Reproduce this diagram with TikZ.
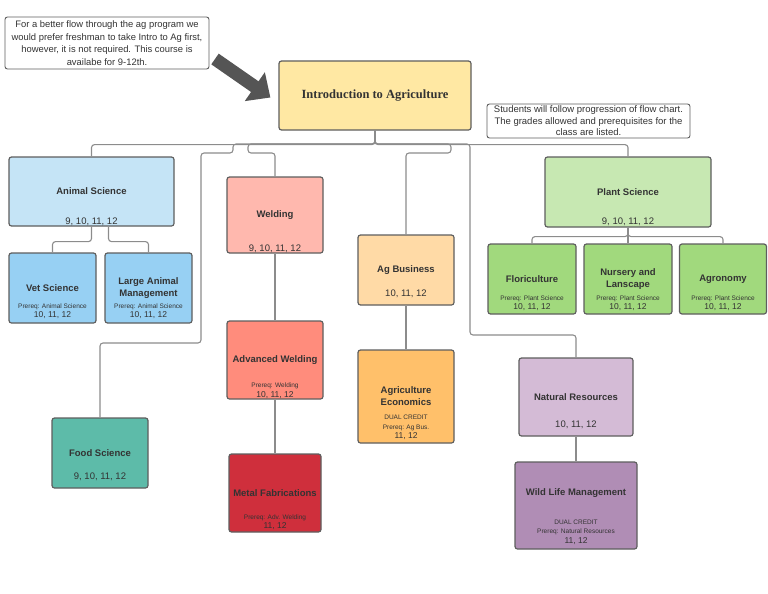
\documentclass[tikz,border=0pt]{standalone}
\usepackage{fontspec}
\setmainfont{Liberation Sans}
\newfontfamily\serifbold{Liberation Serif}
\usetikzlibrary{arrows.meta}
\definecolor{boxline}{HTML}{5E5E5E}
\definecolor{linkgray}{HTML}{8C8C8C}
\definecolor{ink}{HTML}{333333}
\definecolor{introyellow}{HTML}{FFE8A3}
\definecolor{animalblue}{HTML}{C5E4F6}
\definecolor{vetblue}{HTML}{97D0F3}
\definecolor{weldpink}{HTML}{FFB8AE}
\definecolor{advsalmon}{HTML}{FF8C7C}
\definecolor{metalred}{HTML}{CF2F3C}
\definecolor{foodteal}{HTML}{5DBBA9}
\definecolor{busorange}{HTML}{FFDAA6}
\definecolor{econorange}{HTML}{FFC06A}
\definecolor{natlilac}{HTML}{D4BBD6}
\definecolor{wildpurple}{HTML}{B08DB5}
\definecolor{plantgreen}{HTML}{C7E8B2}
\definecolor{cropgreen}{HTML}{A1D97D}
\definecolor{arrowgray}{HTML}{555555}
\newcommand{\prereqfont}{\fontsize{6.5}{7}\selectfont}

\begin{document}
\begin{tikzpicture}[x=1pt, y=-1pt]
\tikzset{course/.style={draw=boxline, fill=#1, line width=1.2pt, rounded corners=2.5pt, inner sep=0pt, align=center, text=ink, font=\bfseries\fontsize{9.5}{12}\selectfont}}
\tikzset{info/.style={anchor=south, inner sep=0pt, align=center, text=ink, font=\fontsize{9.5}{9.5}\selectfont}}
\tikzset{small/.style={font=\fontsize{8.5}{9.5}\selectfont}}
\tikzset{note/.style={draw=boxline, line width=0.9pt, rounded corners=2.5pt, fill=white, inner sep=0pt, align=center, text=ink}}
\tikzset{link/.style={draw=linkgray, line width=1.1pt, rounded corners=3pt}}
\useasboundingbox (0,0) rectangle (768,594);

% notes
\node[note, minimum width=204pt, minimum height=52pt, font=\fontsize{9.4}{12.7}\selectfont] (freshnote) at (107,43)
  {For a better flow through the ag program we\\would prefer freshman to take Intro to Ag first,\\however, it is not required. This course is\\availabe for 9-12th.};
\node[note, minimum width=203pt, minimum height=34pt, font=\fontsize{9.5}{11.5}\selectfont] (flownote) at (588.5,121)
  {Students will follow progression of flow chart.\\The grades allowed and prerequisites for the\\class are listed.};

\node[course=introyellow, minimum width=192pt, minimum height=69pt, font=\serifbold\bfseries\fontsize{12.5}{14}\selectfont, text=ink] (intro) at (375,95.5) {Introduction to Agriculture};

% animal science
\node[course=animalblue, minimum width=165pt, minimum height=69pt,
  label={[info, yshift=1pt]south:{9, 10, 11, 12}}] (animal) at (91.5,191.5) {Animal Science};
\node[course=vetblue, minimum width=87pt, minimum height=70pt,
  label={[info, small, yshift=4.5pt]south:{{\prereqfont Prereq: Animal Science}\\10, 11, 12}}] (vet) at (52.5,288) {Vet Science};
\node[course=vetblue, minimum width=87pt, minimum height=70pt,
  label={[info, small, yshift=4.5pt]south:{{\prereqfont Prereq: Animal Science}\\10, 11, 12}}] (large) at (148.5,288) {Large Animal\\Management};
\node[course=foodteal, minimum width=96pt, minimum height=70pt,
  label={[info, yshift=8pt]south:{9, 10, 11, 12}}] (food) at (100,453) {Food Science};

% welding
\node[course=weldpink, minimum width=96pt, minimum height=76pt,
  label={[info, yshift=1pt]south:{9, 10, 11, 12}}] (welding) at (275,215) {Welding};
\node[course=advsalmon, minimum width=96pt, minimum height=78pt,
  label={[info, small, yshift=1pt]south:{{\prereqfont Prereq: Welding}\\10, 11, 12}}] (advweld) at (275,360) {Advanced Welding};
\node[course=metalred, minimum width=92pt, minimum height=78pt,
  label={[info, small, yshift=2.5pt]south:{{\prereqfont Prereq: Adv. Welding}\\11, 12}}] (metal) at (275,493) {Metal Fabrications};

% business
\node[course=busorange, minimum width=96pt, minimum height=70pt,
  label={[info, yshift=8pt]south:{10, 11, 12}}] (agbus) at (406,270) {Ag Business};
\node[course=econorange, minimum width=96pt, minimum height=93pt,
  label={[info, small, yshift=3.5pt]south:{{\prereqfont DUAL CREDIT}\\{\prereqfont Prereq: Ag Bus.}\\11, 12}}] (agecon) at (406,396.5) {Agriculture\\Economics};

% natural resources
\node[course=natlilac, minimum width=114pt, minimum height=78pt,
  label={[info, yshift=8pt]south:{10, 11, 12}}] (natres) at (576,397) {Natural Resources};
\node[course=wildpurple, minimum width=122pt, minimum height=87pt,
  label={[info, small, yshift=5pt]south:{{\prereqfont DUAL CREDIT}\\{\prereqfont Prereq: Natural Resources}\\11, 12}}] (wildlife) at (576,505.5) {\raisebox{10pt}[0pt][0pt]{Wild Life Management}};

% plant science
\node[course=plantgreen, minimum width=166pt, minimum height=70pt,
  label={[info, yshift=1.5pt]south:{9, 10, 11, 12}}] (plant) at (628,192) {Plant Science};
\node[course=cropgreen, minimum width=88pt, minimum height=70pt,
  label={[info, small, yshift=3.5pt]south:{{\prereqfont Prereq: Plant Science}\\10, 11, 12}}] (flor) at (532,279) {Floriculture};
\node[course=cropgreen, minimum width=88pt, minimum height=70pt,
  label={[info, small, yshift=3.5pt]south:{{\prereqfont Prereq: Plant Science}\\10, 11, 12}}] (nursery) at (628,279) {Nursery and\\Lanscape};
\node[course=cropgreen, minimum width=87pt, minimum height=70pt,
  label={[info, small, yshift=3.5pt]south:{{\prereqfont Prereq: Plant Science}\\10, 11, 12}}] (agronomy) at (723,279) {Agronomy};

% links from intro
\draw[link] (intro.south) -- ++(0,14) -| (animal.north);
\draw[link] (intro.south) -- ++(0,14) -| (plant.north);
\draw[link] (intro.south) |- (233,144) -- (233,153) -| (201,343) -| (food.north);
\draw[link] (intro.south) |- (248,144) -- (248,153) -| (welding.north);
\draw[link] (intro.south) |- (451,144) -- (451,153) -| (agbus.north);
\draw[link] (intro.south) |- (470,144) -- (470,335) -| (natres.north);

\draw[link] (animal.south) -- ++(0,15) -| (vet.north);
\draw[link] ([xshift=17pt]animal.south) -- ++(0,15) -| (large.north);
\draw[link] (plant.south) -- ++(0,9) -| (flor.north);
\draw[link] (plant.south) -- ++(0,9) -| (agronomy.north);
\draw[link] (plant.south) -- (nursery.north);

\draw[link] (welding.south) -- (advweld.north);
\draw[link] (advweld.south) -- (metal.north);
\draw[link] (agbus.south) -- (agecon.north);
\draw[link] (natres.south) -- (wildlife.north);

% big arrow
\coordinate (arrowtail) at (215,59);
\draw[arrowgray, line width=13pt, -{Triangle[length=19pt, width=34pt]}] (arrowtail) -- ([xshift=-8pt, yshift=-2pt]intro.west);
\end{tikzpicture}
\end{document}
